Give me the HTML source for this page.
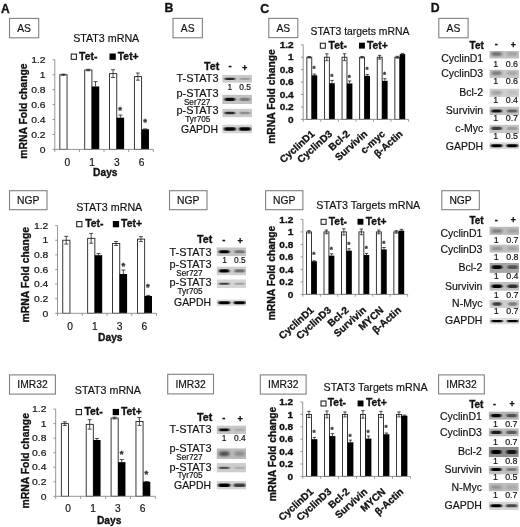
<!DOCTYPE html>
<html lang="en"><head><meta charset="utf-8"><title>STAT3 knockdown figure</title>
<style>html,body{margin:0;padding:0;background:#fff}svg{display:block;filter:blur(.35px)}text{font-family:'Liberation Sans', sans-serif;stroke:#111;stroke-width:.18px;paint-order:stroke}text[font-weight=bold]{stroke-width:.32px}</style>
</head><body>
<svg width="520" height="527" viewBox="0 0 520 527">
<defs><filter id="blur" x="-20%" y="-100%" width="140%" height="300%"><feGaussianBlur stdDeviation="0.9 0.7"/></filter><filter id="fuzz" x="-30%" y="-150%" width="160%" height="400%"><feGaussianBlur stdDeviation="1.5 1.2"/></filter></defs>
<rect width="520" height="527" fill="#fff"/>
<text x="1.00" y="12.50" font-size="12" text-anchor="start" font-weight="bold" fill="#111">A</text>
<text x="164.50" y="11.90" font-size="12.3" text-anchor="start" font-weight="bold" fill="#111">B</text>
<text x="260.20" y="12.70" font-size="12.4" text-anchor="start" font-weight="bold" fill="#111">C</text>
<text x="430.70" y="12.10" font-size="12.3" text-anchor="start" font-weight="bold" fill="#111">D</text>
<rect x="9.50" y="18.40" width="29.20" height="19.40" fill="#fff" stroke="#808080" stroke-width="1.1"/>
<text x="24.10" y="31.75" font-size="10.3" text-anchor="middle" fill="#111">AS</text>
<rect x="173.00" y="18.40" width="29.40" height="19.40" fill="#fff" stroke="#808080" stroke-width="1.1"/>
<text x="187.70" y="31.75" font-size="10.3" text-anchor="middle" fill="#111">AS</text>
<rect x="268.80" y="18.40" width="29.00" height="19.20" fill="#fff" stroke="#808080" stroke-width="1.1"/>
<text x="283.30" y="31.65" font-size="10.3" text-anchor="middle" fill="#111">AS</text>
<rect x="438.80" y="18.40" width="29.30" height="19.40" fill="#fff" stroke="#808080" stroke-width="1.1"/>
<text x="453.45" y="31.75" font-size="10.3" text-anchor="middle" fill="#111">AS</text>
<rect x="9.50" y="190.70" width="37.50" height="19.00" fill="#fff" stroke="#808080" stroke-width="1.1"/>
<text x="28.25" y="203.85" font-size="10.3" text-anchor="middle" fill="#111">NGP</text>
<rect x="169.50" y="190.70" width="37.50" height="19.00" fill="#fff" stroke="#808080" stroke-width="1.1"/>
<text x="188.25" y="203.85" font-size="10.3" text-anchor="middle" fill="#111">NGP</text>
<rect x="265.60" y="190.70" width="37.30" height="19.00" fill="#fff" stroke="#808080" stroke-width="1.1"/>
<text x="284.25" y="203.85" font-size="10.3" text-anchor="middle" fill="#111">NGP</text>
<rect x="441.80" y="190.70" width="37.50" height="19.00" fill="#fff" stroke="#808080" stroke-width="1.1"/>
<text x="460.55" y="203.85" font-size="10.3" text-anchor="middle" fill="#111">NGP</text>
<rect x="9.50" y="374.90" width="45.90" height="19.20" fill="#fff" stroke="#808080" stroke-width="1.1"/>
<text x="32.45" y="388.45" font-size="10.3" text-anchor="middle" fill="#111">IMR32</text>
<rect x="167.70" y="374.30" width="45.80" height="19.60" fill="#fff" stroke="#808080" stroke-width="1.1"/>
<text x="190.60" y="387.75" font-size="10.3" text-anchor="middle" fill="#111">IMR32</text>
<rect x="260.30" y="374.90" width="45.80" height="19.20" fill="#fff" stroke="#808080" stroke-width="1.1"/>
<text x="283.20" y="388.45" font-size="10.3" text-anchor="middle" fill="#111">IMR32</text>
<rect x="438.60" y="374.90" width="45.70" height="19.00" fill="#fff" stroke="#808080" stroke-width="1.1"/>
<text x="461.45" y="388.25" font-size="10.3" text-anchor="middle" fill="#111">IMR32</text>
<text x="106.20" y="42.20" font-size="10.7" text-anchor="middle" fill="#111">STAT3 mRNA</text>
<rect x="71.20" y="54.10" width="5.2" height="5.2" fill="#fff" stroke="#111" stroke-width="1"/>
<text x="79.10" y="59.70" font-size="10.4" text-anchor="start" font-weight="bold" fill="#111">Tet-</text>
<rect x="109.50" y="53.50" width="6.3" height="6.3" fill="#000"/>
<text x="117.80" y="59.70" font-size="10.4" text-anchor="start" font-weight="bold" fill="#111">Tet+</text>
<rect x="59.85" y="74.73" width="7.20" height="74.67" fill="#fff" stroke="#222" stroke-width="0.9"/>
<path d="M63.35 74.14V75.33M61.35 74.14H65.35M61.35 75.33H65.35" stroke="#222" stroke-width="0.8" fill="none"/>
<rect x="84.70" y="70.03" width="7.20" height="79.37" fill="#fff" stroke="#222" stroke-width="0.9"/>
<path d="M88.20 69.28V70.78M86.20 69.28H90.20M86.20 70.78H90.20" stroke="#222" stroke-width="0.8" fill="none"/>
<rect x="91.75" y="86.46" width="7.50" height="62.94" fill="#000"/>
<path d="M95.50 81.60V86.46M93.50 81.60H97.50" stroke="#222" stroke-width="0.8" fill="none"/>
<rect x="109.55" y="73.61" width="7.20" height="75.79" fill="#fff" stroke="#222" stroke-width="0.9"/>
<path d="M113.05 69.73V77.50M111.05 69.73H115.05M111.05 77.50H115.05" stroke="#222" stroke-width="0.8" fill="none"/>
<rect x="116.60" y="117.67" width="7.50" height="31.73" fill="#000"/>
<path d="M120.35 115.05V117.67M118.35 115.05H122.35" stroke="#222" stroke-width="0.8" fill="none"/>
<rect x="134.40" y="76.60" width="7.20" height="72.80" fill="#fff" stroke="#222" stroke-width="0.9"/>
<path d="M137.90 73.02V80.18M135.90 73.02H139.90M135.90 80.18H139.90" stroke="#222" stroke-width="0.8" fill="none"/>
<rect x="141.45" y="129.24" width="7.50" height="20.16" fill="#000"/>
<path d="M145.20 128.87V129.24M143.20 128.87H147.20" stroke="#222" stroke-width="0.8" fill="none"/>
<path d="M54.80 59.80V149.40H153.30" stroke="#8a8a8a" stroke-width="0.9" fill="none"/>
<path d="M52.50 149.40H54.80M52.50 134.47H54.80M52.50 119.53H54.80M52.50 104.60H54.80M52.50 89.67H54.80M52.50 74.73H54.80M52.50 59.80H54.80M54.80 149.40V151.90M79.42 149.40V151.90M104.05 149.40V151.90M128.68 149.40V151.90M153.30 149.40V151.90" stroke="#8a8a8a" stroke-width="0.9" fill="none"/>
<text transform="translate(45.60 152.60) scale(1.14 1)" font-size="9.1" text-anchor="end" fill="#111">0</text>
<text transform="translate(45.60 137.67) scale(1.14 1)" font-size="9.1" text-anchor="end" fill="#111">0.2</text>
<text transform="translate(45.60 122.73) scale(1.14 1)" font-size="9.1" text-anchor="end" fill="#111">0.4</text>
<text transform="translate(45.60 107.80) scale(1.14 1)" font-size="9.1" text-anchor="end" fill="#111">0.6</text>
<text transform="translate(45.60 92.87) scale(1.14 1)" font-size="9.1" text-anchor="end" fill="#111">0.8</text>
<text transform="translate(45.60 77.93) scale(1.14 1)" font-size="9.1" text-anchor="end" fill="#111">1</text>
<text transform="translate(45.60 63.00) scale(1.14 1)" font-size="9.1" text-anchor="end" fill="#111">1.2</text>
<text x="67.30" y="165.60" font-size="10.2" text-anchor="middle" fill="#111">0</text>
<text x="92.10" y="165.60" font-size="10.2" text-anchor="middle" fill="#111">1</text>
<text x="116.90" y="165.60" font-size="10.2" text-anchor="middle" fill="#111">3</text>
<text x="141.70" y="165.60" font-size="10.2" text-anchor="middle" fill="#111">6</text>
<text x="105.30" y="175.70" font-size="10.2" text-anchor="middle" font-weight="bold" fill="#111">Days</text>
<text transform="translate(27.20 111.10) rotate(-90)" font-size="10.4" font-weight="bold" text-anchor="middle" fill="#111">mRNA Fold change</text>
<text x="120.20" y="112.60" font-size="9.5" text-anchor="middle" font-weight="bold" fill="#333">*</text>
<text x="145.00" y="125.00" font-size="9.5" text-anchor="middle" font-weight="bold" fill="#333">*</text>
<text x="109.20" y="210.80" font-size="10.7" text-anchor="middle" fill="#111">STAT3 mRNA</text>
<rect x="76.70" y="221.60" width="5.2" height="5.2" fill="#fff" stroke="#111" stroke-width="1"/>
<text x="85.20" y="227.20" font-size="10.4" text-anchor="start" font-weight="bold" fill="#111">Tet-</text>
<rect x="112.80" y="221.00" width="6.3" height="6.3" fill="#000"/>
<text x="121.10" y="227.20" font-size="10.4" text-anchor="start" font-weight="bold" fill="#111">Tet+</text>
<rect x="62.75" y="240.22" width="7.20" height="73.08" fill="#fff" stroke="#222" stroke-width="0.9"/>
<path d="M66.25 236.34V244.09M64.25 236.34H68.25M64.25 244.09H68.25" stroke="#222" stroke-width="0.8" fill="none"/>
<rect x="87.65" y="238.32" width="7.20" height="74.98" fill="#fff" stroke="#222" stroke-width="0.9"/>
<path d="M91.15 233.42V243.21M89.15 233.42H93.15M89.15 243.21H93.15" stroke="#222" stroke-width="0.8" fill="none"/>
<rect x="94.70" y="255.20" width="7.50" height="58.10" fill="#000"/>
<path d="M98.45 253.59V255.20M96.45 253.59H100.45" stroke="#222" stroke-width="0.8" fill="none"/>
<rect x="112.55" y="243.43" width="7.20" height="69.87" fill="#fff" stroke="#222" stroke-width="0.9"/>
<path d="M116.05 241.46V245.41M114.05 241.46H118.05M114.05 245.41H118.05" stroke="#222" stroke-width="0.8" fill="none"/>
<rect x="119.60" y="274.05" width="7.50" height="39.25" fill="#000"/>
<path d="M123.35 270.03V274.05M121.35 270.03H125.35" stroke="#222" stroke-width="0.8" fill="none"/>
<rect x="137.45" y="239.12" width="7.20" height="74.18" fill="#fff" stroke="#222" stroke-width="0.9"/>
<path d="M140.95 236.64V241.61M138.95 236.64H142.95M138.95 241.61H142.95" stroke="#222" stroke-width="0.8" fill="none"/>
<rect x="144.50" y="295.98" width="7.50" height="17.32" fill="#000"/>
<path d="M148.25 295.39V295.98M146.25 295.39H150.25" stroke="#222" stroke-width="0.8" fill="none"/>
<path d="M57.50 225.60V313.30H156.50" stroke="#8a8a8a" stroke-width="0.9" fill="none"/>
<path d="M55.20 313.30H57.50M55.20 298.68H57.50M55.20 284.07H57.50M55.20 269.45H57.50M55.20 254.83H57.50M55.20 240.22H57.50M55.20 225.60H57.50M57.50 313.30V315.80M82.25 313.30V315.80M107.00 313.30V315.80M131.75 313.30V315.80M156.50 313.30V315.80" stroke="#8a8a8a" stroke-width="0.9" fill="none"/>
<text transform="translate(48.30 316.50) scale(1.14 1)" font-size="9.1" text-anchor="end" fill="#111">0</text>
<text transform="translate(48.30 301.88) scale(1.14 1)" font-size="9.1" text-anchor="end" fill="#111">0.2</text>
<text transform="translate(48.30 287.27) scale(1.14 1)" font-size="9.1" text-anchor="end" fill="#111">0.4</text>
<text transform="translate(48.30 272.65) scale(1.14 1)" font-size="9.1" text-anchor="end" fill="#111">0.6</text>
<text transform="translate(48.30 258.03) scale(1.14 1)" font-size="9.1" text-anchor="end" fill="#111">0.8</text>
<text transform="translate(48.30 243.42) scale(1.14 1)" font-size="9.1" text-anchor="end" fill="#111">1</text>
<text transform="translate(48.30 228.80) scale(1.14 1)" font-size="9.1" text-anchor="end" fill="#111">1.2</text>
<text x="70.00" y="329.60" font-size="10.2" text-anchor="middle" fill="#111">0</text>
<text x="94.80" y="329.60" font-size="10.2" text-anchor="middle" fill="#111">1</text>
<text x="119.60" y="329.60" font-size="10.2" text-anchor="middle" fill="#111">3</text>
<text x="144.40" y="329.60" font-size="10.2" text-anchor="middle" fill="#111">6</text>
<text x="110.30" y="341.00" font-size="10.2" text-anchor="middle" font-weight="bold" fill="#111">Days</text>
<text transform="translate(29.30 274.70) rotate(-90)" font-size="10.4" font-weight="bold" text-anchor="middle" fill="#111">mRNA Fold change</text>
<text x="123.30" y="269.00" font-size="9.5" text-anchor="middle" font-weight="bold" fill="#333">*</text>
<text x="147.80" y="289.80" font-size="9.5" text-anchor="middle" font-weight="bold" fill="#333">*</text>
<text x="107.90" y="393.50" font-size="10.7" text-anchor="middle" fill="#111">STAT3 mRNA</text>
<rect x="76.20" y="409.50" width="5.2" height="5.2" fill="#fff" stroke="#111" stroke-width="1"/>
<text x="84.50" y="415.10" font-size="10.4" text-anchor="start" font-weight="bold" fill="#111">Tet-</text>
<rect x="112.70" y="408.90" width="6.3" height="6.3" fill="#000"/>
<text x="120.90" y="415.10" font-size="10.4" text-anchor="start" font-weight="bold" fill="#111">Tet+</text>
<rect x="61.35" y="423.63" width="7.10" height="72.67" fill="#fff" stroke="#222" stroke-width="0.9"/>
<path d="M64.80 421.82V425.45M62.80 421.82H66.80M62.80 425.45H66.80" stroke="#222" stroke-width="0.8" fill="none"/>
<rect x="86.22" y="424.36" width="7.10" height="71.94" fill="#fff" stroke="#222" stroke-width="0.9"/>
<path d="M89.67 419.64V429.08M87.67 419.64H91.67M87.67 429.08H91.67" stroke="#222" stroke-width="0.8" fill="none"/>
<rect x="93.17" y="439.98" width="7.40" height="56.32" fill="#000"/>
<path d="M96.87 438.53V439.98M94.87 438.53H98.87" stroke="#222" stroke-width="0.8" fill="none"/>
<rect x="111.09" y="418.04" width="7.10" height="78.26" fill="#fff" stroke="#222" stroke-width="0.9"/>
<path d="M114.54 417.17V418.91M112.54 417.17H116.54M112.54 418.91H116.54" stroke="#222" stroke-width="0.8" fill="none"/>
<rect x="118.04" y="462.15" width="7.40" height="34.15" fill="#000"/>
<path d="M121.74 459.60V462.15M119.74 459.60H123.74" stroke="#222" stroke-width="0.8" fill="none"/>
<rect x="135.96" y="421.45" width="7.10" height="74.85" fill="#fff" stroke="#222" stroke-width="0.9"/>
<path d="M139.41 417.46V425.45M137.41 417.46H141.41M137.41 425.45H141.41" stroke="#222" stroke-width="0.8" fill="none"/>
<rect x="142.91" y="481.77" width="7.40" height="14.53" fill="#000"/>
<path d="M146.61 481.48V481.77M144.61 481.48H148.61" stroke="#222" stroke-width="0.8" fill="none"/>
<path d="M55.70 409.10V496.30H155.40" stroke="#8a8a8a" stroke-width="0.9" fill="none"/>
<path d="M53.40 496.30H55.70M53.40 481.77H55.70M53.40 467.23H55.70M53.40 452.70H55.70M53.40 438.17H55.70M53.40 423.63H55.70M53.40 409.10H55.70M55.70 496.30V498.80M80.62 496.30V498.80M105.55 496.30V498.80M130.48 496.30V498.80M155.40 496.30V498.80" stroke="#8a8a8a" stroke-width="0.9" fill="none"/>
<text transform="translate(46.50 499.50) scale(1.14 1)" font-size="9.1" text-anchor="end" fill="#111">0</text>
<text transform="translate(46.50 484.97) scale(1.14 1)" font-size="9.1" text-anchor="end" fill="#111">0.2</text>
<text transform="translate(46.50 470.43) scale(1.14 1)" font-size="9.1" text-anchor="end" fill="#111">0.4</text>
<text transform="translate(46.50 455.90) scale(1.14 1)" font-size="9.1" text-anchor="end" fill="#111">0.6</text>
<text transform="translate(46.50 441.37) scale(1.14 1)" font-size="9.1" text-anchor="end" fill="#111">0.8</text>
<text transform="translate(46.50 426.83) scale(1.14 1)" font-size="9.1" text-anchor="end" fill="#111">1</text>
<text transform="translate(46.50 412.30) scale(1.14 1)" font-size="9.1" text-anchor="end" fill="#111">1.2</text>
<text x="68.20" y="511.90" font-size="10.2" text-anchor="middle" fill="#111">0</text>
<text x="93.00" y="511.90" font-size="10.2" text-anchor="middle" fill="#111">1</text>
<text x="117.80" y="511.90" font-size="10.2" text-anchor="middle" fill="#111">3</text>
<text x="142.60" y="511.90" font-size="10.2" text-anchor="middle" fill="#111">6</text>
<text x="109.20" y="523.80" font-size="10.2" text-anchor="middle" font-weight="bold" fill="#111">Days</text>
<text transform="translate(28.90 460.80) rotate(-90)" font-size="10.4" font-weight="bold" text-anchor="middle" fill="#111">mRNA Fold change</text>
<text x="121.70" y="456.80" font-size="9.5" text-anchor="middle" font-weight="bold" fill="#333">*</text>
<text x="146.40" y="476.50" font-size="9.5" text-anchor="middle" font-weight="bold" fill="#333">*</text>
<text x="310.50" y="34.50" font-size="10.4" text-anchor="start" fill="#111">STAT3 targets mRNA</text>
<rect x="320.30" y="43.20" width="5.0" height="5.0" fill="#fff" stroke="#111" stroke-width="1"/>
<text x="328.60" y="48.60" font-size="10.4" text-anchor="start" font-weight="bold" fill="#111">Tet-</text>
<rect x="359.00" y="42.70" width="5.9" height="5.9" fill="#000"/>
<text x="367.00" y="48.60" font-size="10.4" text-anchor="start" font-weight="bold" fill="#111">Tet+</text>
<rect x="306.85" y="57.23" width="4.90" height="62.17" fill="#fff" stroke="#222" stroke-width="0.9"/>
<path d="M309.25 56.49V57.98M307.55 56.49H310.95M307.55 57.98H310.95" stroke="#222" stroke-width="0.8" fill="none"/>
<rect x="311.70" y="75.26" width="5.50" height="44.14" fill="#000"/>
<path d="M314.45 74.02V75.26M312.75 74.02H316.15" stroke="#222" stroke-width="0.8" fill="none"/>
<text x="314.15" y="71.46" font-size="8" text-anchor="middle" font-weight="bold" fill="#333">*</text>
<rect x="324.45" y="57.23" width="4.90" height="62.17" fill="#fff" stroke="#222" stroke-width="0.9"/>
<path d="M326.85 53.81V60.65M325.15 53.81H328.55M325.15 60.65H328.55" stroke="#222" stroke-width="0.8" fill="none"/>
<rect x="329.30" y="83.22" width="5.50" height="36.18" fill="#000"/>
<path d="M332.05 80.42V83.22M330.35 80.42H333.75" stroke="#222" stroke-width="0.8" fill="none"/>
<text x="331.75" y="79.42" font-size="8" text-anchor="middle" font-weight="bold" fill="#333">*</text>
<rect x="342.05" y="57.23" width="4.90" height="62.17" fill="#fff" stroke="#222" stroke-width="0.9"/>
<path d="M344.45 53.81V60.65M342.75 53.81H346.15M342.75 60.65H346.15" stroke="#222" stroke-width="0.8" fill="none"/>
<rect x="346.90" y="83.47" width="5.50" height="35.93" fill="#000"/>
<path d="M349.65 80.98V83.47M347.95 80.98H351.35" stroke="#222" stroke-width="0.8" fill="none"/>
<text x="349.35" y="79.67" font-size="8" text-anchor="middle" font-weight="bold" fill="#333">*</text>
<rect x="359.65" y="57.23" width="4.90" height="62.17" fill="#fff" stroke="#222" stroke-width="0.9"/>
<path d="M362.05 56.49V57.98M360.35 56.49H363.75M360.35 57.98H363.75" stroke="#222" stroke-width="0.8" fill="none"/>
<rect x="364.50" y="75.88" width="5.50" height="43.52" fill="#000"/>
<path d="M367.25 74.64V75.88M365.55 74.64H368.95" stroke="#222" stroke-width="0.8" fill="none"/>
<text x="366.95" y="72.08" font-size="8" text-anchor="middle" font-weight="bold" fill="#333">*</text>
<rect x="377.25" y="57.23" width="4.90" height="62.17" fill="#fff" stroke="#222" stroke-width="0.9"/>
<path d="M379.65 55.37V59.10M377.95 55.37H381.35M377.95 59.10H381.35" stroke="#222" stroke-width="0.8" fill="none"/>
<rect x="382.10" y="80.86" width="5.50" height="38.54" fill="#000"/>
<path d="M384.85 78.68V80.86M383.15 78.68H386.55" stroke="#222" stroke-width="0.8" fill="none"/>
<text x="384.55" y="77.06" font-size="8" text-anchor="middle" font-weight="bold" fill="#333">*</text>
<rect x="394.85" y="57.23" width="4.90" height="62.17" fill="#fff" stroke="#222" stroke-width="0.9"/>
<path d="M397.25 56.30V58.17M395.55 56.30H398.95M395.55 58.17H398.95" stroke="#222" stroke-width="0.8" fill="none"/>
<rect x="399.70" y="54.12" width="5.50" height="65.28" fill="#000"/>
<path d="M402.45 53.38V54.12M400.75 53.38H404.15" stroke="#222" stroke-width="0.8" fill="none"/>
<path d="M303.20 44.80V119.40H408.60" stroke="#8a8a8a" stroke-width="0.9" fill="none"/>
<path d="M300.90 119.40H303.20M300.90 106.97H303.20M300.90 94.53H303.20M300.90 82.10H303.20M300.90 69.67H303.20M300.90 57.23H303.20M300.90 44.80H303.20M303.20 119.40V121.70M320.77 119.40V121.70M338.33 119.40V121.70M355.90 119.40V121.70M373.47 119.40V121.70M391.03 119.40V121.70M408.60 119.40V121.70" stroke="#8a8a8a" stroke-width="0.9" fill="none"/>
<text transform="translate(293.60 122.55) scale(1.13 1)" font-size="8.9" font-weight="bold" text-anchor="end" fill="#111">0</text>
<text transform="translate(293.60 110.12) scale(1.13 1)" font-size="8.9" font-weight="bold" text-anchor="end" fill="#111">0.2</text>
<text transform="translate(293.60 97.68) scale(1.13 1)" font-size="8.9" font-weight="bold" text-anchor="end" fill="#111">0.4</text>
<text transform="translate(293.60 85.25) scale(1.13 1)" font-size="8.9" font-weight="bold" text-anchor="end" fill="#111">0.6</text>
<text transform="translate(293.60 72.82) scale(1.13 1)" font-size="8.9" font-weight="bold" text-anchor="end" fill="#111">0.8</text>
<text transform="translate(293.60 60.38) scale(1.13 1)" font-size="8.9" font-weight="bold" text-anchor="end" fill="#111">1</text>
<text transform="translate(293.60 47.95) scale(1.13 1)" font-size="8.9" font-weight="bold" text-anchor="end" fill="#111">1.2</text>
<text transform="translate(315.30 134.80) rotate(-42)" font-size="10" font-weight="bold" text-anchor="end" fill="#111">CyclinD1</text>
<text transform="translate(332.90 134.80) rotate(-42)" font-size="10" font-weight="bold" text-anchor="end" fill="#111">CyclinD3</text>
<text transform="translate(350.50 134.80) rotate(-42)" font-size="10" font-weight="bold" text-anchor="end" fill="#111">Bcl-2</text>
<text transform="translate(368.10 134.80) rotate(-42)" font-size="10" font-weight="bold" text-anchor="end" fill="#111">Survivin</text>
<text transform="translate(385.70 134.80) rotate(-42)" font-size="10" font-weight="bold" text-anchor="end" fill="#111">c-myc</text>
<text transform="translate(403.30 134.80) rotate(-42)" font-size="10" font-weight="bold" text-anchor="end" fill="#111">β-Actin</text>
<text transform="translate(275.40 96.50) rotate(-90)" font-size="10.3" font-weight="bold" text-anchor="middle" fill="#111">mRNA Fold change</text>
<text x="316.30" y="209.30" font-size="10.7" text-anchor="start" fill="#111">STAT3 Targets mRNA</text>
<rect x="321.10" y="219.30" width="5.0" height="5.0" fill="#fff" stroke="#111" stroke-width="1"/>
<text x="328.80" y="224.70" font-size="10.4" text-anchor="start" font-weight="bold" fill="#111">Tet-</text>
<rect x="357.50" y="218.80" width="5.9" height="5.9" fill="#000"/>
<text x="365.80" y="224.70" font-size="10.4" text-anchor="start" font-weight="bold" fill="#111">Tet+</text>
<rect x="306.55" y="231.90" width="4.90" height="62.50" fill="#fff" stroke="#222" stroke-width="0.9"/>
<path d="M308.95 230.65V233.15M307.25 230.65H310.65M307.25 233.15H310.65" stroke="#222" stroke-width="0.8" fill="none"/>
<rect x="311.40" y="261.27" width="5.50" height="33.12" fill="#000"/>
<path d="M314.15 260.77V261.27M312.45 260.77H315.85" stroke="#222" stroke-width="0.8" fill="none"/>
<text x="313.85" y="257.47" font-size="8" text-anchor="middle" font-weight="bold" fill="#333">*</text>
<rect x="324.01" y="231.90" width="4.90" height="62.50" fill="#fff" stroke="#222" stroke-width="0.9"/>
<path d="M326.41 230.03V233.78M324.71 230.03H328.11M324.71 233.78H328.11" stroke="#222" stroke-width="0.8" fill="none"/>
<rect x="328.86" y="255.65" width="5.50" height="38.75" fill="#000"/>
<path d="M331.61 253.77V255.65M329.91 253.77H333.31" stroke="#222" stroke-width="0.8" fill="none"/>
<text x="331.31" y="251.85" font-size="8" text-anchor="middle" font-weight="bold" fill="#333">*</text>
<rect x="341.47" y="231.90" width="4.90" height="62.50" fill="#fff" stroke="#222" stroke-width="0.9"/>
<path d="M343.87 228.78V235.03M342.17 228.78H345.57M342.17 235.03H345.57" stroke="#222" stroke-width="0.8" fill="none"/>
<rect x="346.32" y="250.65" width="5.50" height="43.75" fill="#000"/>
<path d="M349.07 248.77V250.65M347.37 248.77H350.77" stroke="#222" stroke-width="0.8" fill="none"/>
<text x="348.77" y="246.85" font-size="8" text-anchor="middle" font-weight="bold" fill="#333">*</text>
<rect x="358.93" y="231.90" width="4.90" height="62.50" fill="#fff" stroke="#222" stroke-width="0.9"/>
<path d="M361.33 229.09V234.71M359.63 229.09H363.03M359.63 234.71H363.03" stroke="#222" stroke-width="0.8" fill="none"/>
<rect x="363.78" y="255.02" width="5.50" height="39.38" fill="#000"/>
<path d="M366.53 253.46V255.02M364.83 253.46H368.23" stroke="#222" stroke-width="0.8" fill="none"/>
<text x="366.23" y="251.22" font-size="8" text-anchor="middle" font-weight="bold" fill="#333">*</text>
<rect x="376.39" y="231.90" width="4.90" height="62.50" fill="#fff" stroke="#222" stroke-width="0.9"/>
<path d="M378.79 230.03V233.78M377.09 230.03H380.49M377.09 233.78H380.49" stroke="#222" stroke-width="0.8" fill="none"/>
<rect x="381.24" y="249.40" width="5.50" height="45.00" fill="#000"/>
<path d="M383.99 247.52V249.40M382.29 247.52H385.69" stroke="#222" stroke-width="0.8" fill="none"/>
<text x="383.69" y="245.60" font-size="8" text-anchor="middle" font-weight="bold" fill="#333">*</text>
<rect x="393.85" y="231.90" width="4.90" height="62.50" fill="#fff" stroke="#222" stroke-width="0.9"/>
<path d="M396.25 230.65V233.15M394.55 230.65H397.95M394.55 233.15H397.95" stroke="#222" stroke-width="0.8" fill="none"/>
<rect x="398.70" y="230.65" width="5.50" height="63.75" fill="#000"/>
<path d="M401.45 229.40V230.65M399.75 229.40H403.15" stroke="#222" stroke-width="0.8" fill="none"/>
<path d="M302.90 219.40V294.40H407.60" stroke="#8a8a8a" stroke-width="0.9" fill="none"/>
<path d="M300.60 294.40H302.90M300.60 281.90H302.90M300.60 269.40H302.90M300.60 256.90H302.90M300.60 244.40H302.90M300.60 231.90H302.90M300.60 219.40H302.90M302.90 294.40V296.70M320.35 294.40V296.70M337.80 294.40V296.70M355.25 294.40V296.70M372.70 294.40V296.70M390.15 294.40V296.70M407.60 294.40V296.70" stroke="#8a8a8a" stroke-width="0.9" fill="none"/>
<text transform="translate(293.30 297.55) scale(1.13 1)" font-size="8.9" font-weight="bold" text-anchor="end" fill="#111">0</text>
<text transform="translate(293.30 285.05) scale(1.13 1)" font-size="8.9" font-weight="bold" text-anchor="end" fill="#111">0.2</text>
<text transform="translate(293.30 272.55) scale(1.13 1)" font-size="8.9" font-weight="bold" text-anchor="end" fill="#111">0.4</text>
<text transform="translate(293.30 260.05) scale(1.13 1)" font-size="8.9" font-weight="bold" text-anchor="end" fill="#111">0.6</text>
<text transform="translate(293.30 247.55) scale(1.13 1)" font-size="8.9" font-weight="bold" text-anchor="end" fill="#111">0.8</text>
<text transform="translate(293.30 235.05) scale(1.13 1)" font-size="8.9" font-weight="bold" text-anchor="end" fill="#111">1</text>
<text transform="translate(293.30 222.55) scale(1.13 1)" font-size="8.9" font-weight="bold" text-anchor="end" fill="#111">1.2</text>
<text transform="translate(314.40 311.00) rotate(-42)" font-size="10" font-weight="bold" text-anchor="end" fill="#111">CyclinD1</text>
<text transform="translate(331.86 311.00) rotate(-42)" font-size="10" font-weight="bold" text-anchor="end" fill="#111">CyclinD3</text>
<text transform="translate(349.32 311.00) rotate(-42)" font-size="10" font-weight="bold" text-anchor="end" fill="#111">Bcl-2</text>
<text transform="translate(366.78 311.00) rotate(-42)" font-size="10" font-weight="bold" text-anchor="end" fill="#111">Survivin</text>
<text transform="translate(384.24 311.00) rotate(-42)" font-size="10" font-weight="bold" text-anchor="end" fill="#111">MYCN</text>
<text transform="translate(401.70 311.00) rotate(-42)" font-size="10" font-weight="bold" text-anchor="end" fill="#111">β-Actin</text>
<text transform="translate(275.20 273.00) rotate(-90)" font-size="10.3" font-weight="bold" text-anchor="middle" fill="#111">mRNA Fold change</text>
<text x="323.60" y="391.00" font-size="10.7" text-anchor="start" fill="#111">STAT3 Targets mRNA</text>
<rect x="321.00" y="401.00" width="5.0" height="5.0" fill="#fff" stroke="#111" stroke-width="1"/>
<text x="327.80" y="406.40" font-size="10.4" text-anchor="start" font-weight="bold" fill="#111">Tet-</text>
<rect x="357.60" y="400.50" width="5.9" height="5.9" fill="#000"/>
<text x="366.00" y="406.40" font-size="10.4" text-anchor="start" font-weight="bold" fill="#111">Tet+</text>
<rect x="306.55" y="414.40" width="4.90" height="62.00" fill="#fff" stroke="#222" stroke-width="0.9"/>
<path d="M308.95 411.30V417.50M307.25 411.30H310.65M307.25 417.50H310.65" stroke="#222" stroke-width="0.8" fill="none"/>
<rect x="311.40" y="439.20" width="6.00" height="37.20" fill="#000"/>
<path d="M314.40 437.34V439.20M312.70 437.34H316.10" stroke="#222" stroke-width="0.8" fill="none"/>
<text x="314.10" y="435.40" font-size="8" text-anchor="middle" font-weight="bold" fill="#333">*</text>
<rect x="324.55" y="414.40" width="4.90" height="62.00" fill="#fff" stroke="#222" stroke-width="0.9"/>
<path d="M326.95 410.99V417.81M325.25 410.99H328.65M325.25 417.81H328.65" stroke="#222" stroke-width="0.8" fill="none"/>
<rect x="329.40" y="436.10" width="6.00" height="40.30" fill="#000"/>
<path d="M332.40 433.62V436.10M330.70 433.62H334.10" stroke="#222" stroke-width="0.8" fill="none"/>
<text x="332.10" y="432.30" font-size="8" text-anchor="middle" font-weight="bold" fill="#333">*</text>
<rect x="342.55" y="414.40" width="4.90" height="62.00" fill="#fff" stroke="#222" stroke-width="0.9"/>
<path d="M344.95 411.92V416.88M343.25 411.92H346.65M343.25 416.88H346.65" stroke="#222" stroke-width="0.8" fill="none"/>
<rect x="347.40" y="442.30" width="6.00" height="34.10" fill="#000"/>
<path d="M350.40 440.13V442.30M348.70 440.13H352.10" stroke="#222" stroke-width="0.8" fill="none"/>
<text x="350.10" y="438.50" font-size="8" text-anchor="middle" font-weight="bold" fill="#333">*</text>
<rect x="360.55" y="414.40" width="4.90" height="62.00" fill="#fff" stroke="#222" stroke-width="0.9"/>
<path d="M362.95 410.68V418.12M361.25 410.68H364.65M361.25 418.12H364.65" stroke="#222" stroke-width="0.8" fill="none"/>
<rect x="365.40" y="438.58" width="6.00" height="37.82" fill="#000"/>
<path d="M368.40 436.10V438.58M366.70 436.10H370.10" stroke="#222" stroke-width="0.8" fill="none"/>
<text x="368.10" y="434.78" font-size="8" text-anchor="middle" font-weight="bold" fill="#333">*</text>
<rect x="378.55" y="414.40" width="4.90" height="62.00" fill="#fff" stroke="#222" stroke-width="0.9"/>
<path d="M380.95 411.30V417.50M379.25 411.30H382.65M379.25 417.50H382.65" stroke="#222" stroke-width="0.8" fill="none"/>
<rect x="383.40" y="434.24" width="6.00" height="42.16" fill="#000"/>
<path d="M386.40 433.00V434.24M384.70 433.00H388.10" stroke="#222" stroke-width="0.8" fill="none"/>
<text x="386.10" y="430.44" font-size="8" text-anchor="middle" font-weight="bold" fill="#333">*</text>
<rect x="396.55" y="414.40" width="4.90" height="62.00" fill="#fff" stroke="#222" stroke-width="0.9"/>
<path d="M398.95 411.92V416.88M397.25 411.92H400.65M397.25 416.88H400.65" stroke="#222" stroke-width="0.8" fill="none"/>
<rect x="401.40" y="415.64" width="6.00" height="60.76" fill="#000"/>
<path d="M404.40 415.02V415.64M402.70 415.02H406.10" stroke="#222" stroke-width="0.8" fill="none"/>
<path d="M302.70 402.00V476.40H410.40" stroke="#8a8a8a" stroke-width="0.9" fill="none"/>
<path d="M300.40 476.40H302.70M300.40 464.00H302.70M300.40 451.60H302.70M300.40 439.20H302.70M300.40 426.80H302.70M300.40 414.40H302.70M300.40 402.00H302.70M302.70 476.40V478.70M320.65 476.40V478.70M338.60 476.40V478.70M356.55 476.40V478.70M374.50 476.40V478.70M392.45 476.40V478.70M410.40 476.40V478.70" stroke="#8a8a8a" stroke-width="0.9" fill="none"/>
<text transform="translate(293.10 479.55) scale(1.13 1)" font-size="8.9" font-weight="bold" text-anchor="end" fill="#111">0</text>
<text transform="translate(293.10 467.15) scale(1.13 1)" font-size="8.9" font-weight="bold" text-anchor="end" fill="#111">0.2</text>
<text transform="translate(293.10 454.75) scale(1.13 1)" font-size="8.9" font-weight="bold" text-anchor="end" fill="#111">0.4</text>
<text transform="translate(293.10 442.35) scale(1.13 1)" font-size="8.9" font-weight="bold" text-anchor="end" fill="#111">0.6</text>
<text transform="translate(293.10 429.95) scale(1.13 1)" font-size="8.9" font-weight="bold" text-anchor="end" fill="#111">0.8</text>
<text transform="translate(293.10 417.55) scale(1.13 1)" font-size="8.9" font-weight="bold" text-anchor="end" fill="#111">1</text>
<text transform="translate(293.10 405.15) scale(1.13 1)" font-size="8.9" font-weight="bold" text-anchor="end" fill="#111">1.2</text>
<text transform="translate(314.10 492.60) rotate(-42)" font-size="10" font-weight="bold" text-anchor="end" fill="#111">CyclinD1</text>
<text transform="translate(332.10 492.60) rotate(-42)" font-size="10" font-weight="bold" text-anchor="end" fill="#111">CyclinD3</text>
<text transform="translate(350.10 492.60) rotate(-42)" font-size="10" font-weight="bold" text-anchor="end" fill="#111">Bcl-2</text>
<text transform="translate(368.10 492.60) rotate(-42)" font-size="10" font-weight="bold" text-anchor="end" fill="#111">Survivin</text>
<text transform="translate(386.10 492.60) rotate(-42)" font-size="10" font-weight="bold" text-anchor="end" fill="#111">MYCN</text>
<text transform="translate(404.10 492.60) rotate(-42)" font-size="10" font-weight="bold" text-anchor="end" fill="#111">β-Actin</text>
<text transform="translate(275.60 454.00) rotate(-90)" font-size="10.3" font-weight="bold" text-anchor="middle" fill="#111">mRNA Fold change</text>
<text x="219.30" y="69.70" font-size="10.7" text-anchor="end" font-weight="bold" fill="#111">Tet</text>
<text x="230.00" y="69.40" font-size="9.4" text-anchor="middle" font-weight="bold" fill="#111">-</text>
<text x="244.70" y="70.90" font-size="9.2" text-anchor="middle" font-weight="bold" fill="#111">+</text>
<clipPath id="c1"><rect x="222.20" y="74.80" width="29.80" height="8.00"/></clipPath>
<g clip-path="url(#c1)"><rect x="222.20" y="74.80" width="29.80" height="8.00" fill="#cbcbcb"/>
<g filter="url(#blur)">
<rect x="224.65" y="77.70" width="10.50" height="2.20" rx="1.10" fill="#000" opacity="0.8"/>
<rect x="239.65" y="77.70" width="10.50" height="2.20" rx="1.10" fill="#000" opacity="0.22"/>
</g></g>
<text x="218.50" y="81.90" font-size="10.9" text-anchor="end" fill="#111">T-STAT3</text>
<clipPath id="c2"><rect x="222.20" y="94.60" width="29.80" height="9.50"/></clipPath>
<g clip-path="url(#c2)"><rect x="222.20" y="94.60" width="29.80" height="9.50" fill="#c2c2c2"/>
<g filter="url(#blur)">
<rect x="224.65" y="97.75" width="10.50" height="3.20" rx="1.60" fill="#000" opacity="0.95"/>
<rect x="239.65" y="97.75" width="10.50" height="3.20" rx="1.60" fill="#000" opacity="0.35"/>
</g></g>
<text x="218.50" y="96.80" font-size="10.9" text-anchor="end" fill="#111">p-STAT3</text>
<text x="210.30" y="105.10" font-size="8.2" text-anchor="end" fill="#111">Ser727</text>
<clipPath id="c3"><rect x="222.20" y="108.60" width="29.80" height="8.80"/></clipPath>
<g clip-path="url(#c3)"><rect x="222.20" y="108.60" width="29.80" height="8.80" fill="#cacaca"/>
<g filter="url(#blur)">
<rect x="224.65" y="111.80" width="10.50" height="2.40" rx="1.20" fill="#000" opacity="0.8"/>
<rect x="239.65" y="111.80" width="10.50" height="2.40" rx="1.20" fill="#000" opacity="0.3"/>
</g></g>
<text x="218.50" y="114.00" font-size="10.9" text-anchor="end" fill="#111">p-STAT3</text>
<text x="210.30" y="122.30" font-size="8.2" text-anchor="end" fill="#111">Tyr705</text>
<clipPath id="c4"><rect x="222.20" y="124.50" width="29.80" height="9.00"/></clipPath>
<g clip-path="url(#c4)"><rect x="222.20" y="124.50" width="29.80" height="9.00" fill="#d2d2d2"/>
<g filter="url(#blur)">
<rect x="223.90" y="127.35" width="12.00" height="3.30" rx="1.65" fill="#000" opacity="1.0"/>
<rect x="238.90" y="127.35" width="12.00" height="3.30" rx="1.65" fill="#000" opacity="1.0"/>
</g></g>
<text x="218.00" y="132.70" font-size="10.4" text-anchor="end" fill="#111">GAPDH</text>
<text x="229.80" y="90.10" font-size="8.4" text-anchor="middle" fill="#111">1</text>
<text x="245.20" y="90.10" font-size="8.4" text-anchor="middle" fill="#111">0.5</text>
<text x="212.30" y="243.20" font-size="10.7" text-anchor="end" font-weight="bold" fill="#111">Tet</text>
<text x="223.70" y="242.90" font-size="9.4" text-anchor="middle" font-weight="bold" fill="#111">-</text>
<text x="240.20" y="244.40" font-size="9.2" text-anchor="middle" font-weight="bold" fill="#111">+</text>
<clipPath id="c5"><rect x="216.50" y="247.30" width="29.50" height="8.90"/></clipPath>
<g clip-path="url(#c5)"><rect x="216.50" y="247.30" width="29.50" height="8.90" fill="#c4c4c4"/>
<g filter="url(#blur)">
<rect x="218.95" y="250.25" width="10.50" height="3.00" rx="1.50" fill="#000" opacity="1.0"/>
<rect x="234.35" y="250.25" width="10.50" height="3.00" rx="1.50" fill="#000" opacity="0.4"/>
</g></g>
<text x="211.50" y="256.20" font-size="10.9" text-anchor="end" fill="#111">T-STAT3</text>
<clipPath id="c6"><rect x="216.50" y="266.40" width="29.50" height="9.00"/></clipPath>
<g clip-path="url(#c6)"><rect x="216.50" y="266.40" width="29.50" height="9.00" fill="#cecece"/>
<g filter="url(#blur)">
<rect x="218.95" y="269.20" width="10.50" height="3.40" rx="1.70" fill="#000" opacity="1.0"/>
<rect x="234.35" y="269.20" width="10.50" height="3.40" rx="1.70" fill="#000" opacity="0.45"/>
</g></g>
<text x="211.50" y="268.20" font-size="10.9" text-anchor="end" fill="#111">p-STAT3</text>
<text x="202.60" y="275.70" font-size="8.2" text-anchor="end" fill="#111">Ser727</text>
<clipPath id="c7"><rect x="216.50" y="279.30" width="29.50" height="8.90"/></clipPath>
<g clip-path="url(#c7)"><rect x="216.50" y="279.30" width="29.50" height="8.90" fill="#d6d6d6"/>
<g filter="url(#blur)">
<rect x="218.95" y="282.65" width="10.50" height="2.20" rx="1.10" fill="#000" opacity="0.7"/>
<rect x="234.35" y="282.65" width="10.50" height="2.20" rx="1.10" fill="#000" opacity="0.25"/>
</g></g>
<text x="211.50" y="285.90" font-size="10.9" text-anchor="end" fill="#111">p-STAT3</text>
<text x="202.60" y="293.90" font-size="8.2" text-anchor="end" fill="#111">Tyr705</text>
<clipPath id="c8"><rect x="216.50" y="299.20" width="29.50" height="7.10"/></clipPath>
<g clip-path="url(#c8)"><rect x="216.50" y="299.20" width="29.50" height="7.10" fill="#dedede"/>
<g filter="url(#blur)">
<rect x="218.20" y="301.35" width="12.00" height="2.80" rx="1.40" fill="#000" opacity="1.0"/>
<rect x="233.60" y="301.35" width="12.00" height="2.80" rx="1.40" fill="#000" opacity="1.0"/>
</g></g>
<text x="211.00" y="306.30" font-size="10.4" text-anchor="end" fill="#111">GAPDH</text>
<text x="224.70" y="262.90" font-size="8.4" text-anchor="middle" fill="#111">1</text>
<text x="239.80" y="262.90" font-size="8.4" text-anchor="middle" fill="#111">0.5</text>
<text x="212.30" y="421.20" font-size="10.7" text-anchor="end" font-weight="bold" fill="#111">Tet</text>
<text x="223.70" y="420.90" font-size="9.4" text-anchor="middle" font-weight="bold" fill="#111">-</text>
<text x="240.20" y="422.40" font-size="9.2" text-anchor="middle" font-weight="bold" fill="#111">+</text>
<clipPath id="c9"><rect x="216.50" y="425.40" width="29.50" height="8.80"/></clipPath>
<g clip-path="url(#c9)"><rect x="216.50" y="425.40" width="29.50" height="8.80" fill="#c6c6c6"/>
<g filter="url(#blur)">
<rect x="218.95" y="428.40" width="10.50" height="2.80" rx="1.40" fill="#000" opacity="0.95"/>
<rect x="234.35" y="428.40" width="10.50" height="2.80" rx="1.40" fill="#000" opacity="0.12"/>
</g></g>
<text x="211.50" y="433.20" font-size="10.9" text-anchor="end" fill="#111">T-STAT3</text>
<clipPath id="c10"><rect x="216.50" y="448.30" width="29.50" height="10.80"/></clipPath>
<g clip-path="url(#c10)"><rect x="216.50" y="448.30" width="29.50" height="10.80" fill="#bbbbbb"/>
<g filter="url(#fuzz)">
<rect x="218.95" y="451.40" width="10.50" height="4.60" rx="2.30" fill="#000" opacity="0.6"/>
<rect x="234.35" y="451.40" width="10.50" height="4.60" rx="2.30" fill="#000" opacity="0.25"/>
</g></g>
<text x="211.50" y="451.90" font-size="10.9" text-anchor="end" fill="#111">p-STAT3</text>
<text x="202.60" y="459.60" font-size="8.2" text-anchor="end" fill="#111">Ser727</text>
<clipPath id="c11"><rect x="216.50" y="463.10" width="29.50" height="9.50"/></clipPath>
<g clip-path="url(#c11)"><rect x="216.50" y="463.10" width="29.50" height="9.50" fill="#cdcdcd"/>
<g filter="url(#blur)">
<rect x="218.95" y="466.65" width="10.50" height="2.40" rx="1.20" fill="#000" opacity="0.6"/>
<rect x="234.35" y="466.65" width="10.50" height="2.40" rx="1.20" fill="#000" opacity="0.15"/>
</g></g>
<text x="211.50" y="470.50" font-size="10.9" text-anchor="end" fill="#111">p-STAT3</text>
<text x="202.60" y="478.20" font-size="8.2" text-anchor="end" fill="#111">Tyr705</text>
<clipPath id="c12"><rect x="216.50" y="481.10" width="29.50" height="8.40"/></clipPath>
<g clip-path="url(#c12)"><rect x="216.50" y="481.10" width="29.50" height="8.40" fill="#d2d2d2"/>
<g filter="url(#blur)">
<rect x="218.20" y="483.60" width="12.00" height="3.40" rx="1.70" fill="#000" opacity="1.0"/>
<rect x="233.60" y="483.60" width="12.00" height="3.40" rx="1.70" fill="#000" opacity="0.7"/>
</g></g>
<text x="211.00" y="488.70" font-size="10.4" text-anchor="end" fill="#111">GAPDH</text>
<text x="224.20" y="440.70" font-size="8.4" text-anchor="middle" fill="#111">1</text>
<text x="239.80" y="440.70" font-size="8.4" text-anchor="middle" fill="#111">0.4</text>
<text x="483.80" y="49.00" font-size="10.0" text-anchor="end" font-weight="bold" fill="#111">Tet</text>
<text x="496.20" y="47.40" font-size="9.0" text-anchor="middle" font-weight="bold" fill="#111">-</text>
<text x="513.20" y="48.10" font-size="8.8" text-anchor="middle" font-weight="bold" fill="#111">+</text>
<clipPath id="c13"><rect x="489.30" y="50.90" width="29.90" height="7.80"/></clipPath>
<g clip-path="url(#c13)"><rect x="489.30" y="50.90" width="29.90" height="7.80" fill="#c3c3c3"/>
<g filter="url(#fuzz)">
<rect x="491.35" y="52.20" width="10.50" height="3.60" rx="1.80" fill="#000" opacity="0.5"/>
<rect x="506.95" y="52.20" width="10.50" height="3.60" rx="1.80" fill="#000" opacity="0.2"/>
</g></g>
<text x="483.20" y="61.90" font-size="10.5" text-anchor="end" fill="#111">CyclinD1</text>
<text x="495.80" y="66.80" font-size="8.9" text-anchor="middle" fill="#111">1</text>
<text x="511.90" y="66.80" font-size="8.9" text-anchor="middle" fill="#111">0.6</text>
<clipPath id="c14"><rect x="489.30" y="69.60" width="29.90" height="8.60"/></clipPath>
<g clip-path="url(#c14)"><rect x="489.30" y="69.60" width="29.90" height="8.60" fill="#c8c8c8"/>
<g filter="url(#fuzz)">
<rect x="491.35" y="71.20" width="10.50" height="3.80" rx="1.90" fill="#000" opacity="0.42"/>
<rect x="506.95" y="71.20" width="10.50" height="3.80" rx="1.90" fill="#000" opacity="0.18"/>
</g></g>
<text x="483.20" y="77.40" font-size="10.5" text-anchor="end" fill="#111">CyclinD3</text>
<text x="495.80" y="84.20" font-size="8.9" text-anchor="middle" fill="#111">1</text>
<text x="511.90" y="84.20" font-size="8.9" text-anchor="middle" fill="#111">0.6</text>
<clipPath id="c15"><rect x="489.30" y="88.40" width="29.90" height="8.70"/></clipPath>
<g clip-path="url(#c15)"><rect x="489.30" y="88.40" width="29.90" height="8.70" fill="#d0d0d0"/>
<g filter="url(#fuzz)">
<rect x="491.35" y="90.65" width="10.50" height="4.20" rx="2.10" fill="#000" opacity="0.24"/>
<rect x="506.95" y="90.65" width="10.50" height="4.20" rx="2.10" fill="#000" opacity="0.09"/>
</g></g>
<text x="483.20" y="96.40" font-size="10.5" text-anchor="end" fill="#111">Bcl-2</text>
<text x="495.80" y="102.90" font-size="8.9" text-anchor="middle" fill="#111">1</text>
<text x="511.90" y="102.90" font-size="8.9" text-anchor="middle" fill="#111">0.4</text>
<clipPath id="c16"><rect x="489.30" y="106.50" width="29.90" height="8.80"/></clipPath>
<g clip-path="url(#c16)"><rect x="489.30" y="106.50" width="29.90" height="8.80" fill="#c2c2c2"/>
<g filter="url(#blur)">
<rect x="491.35" y="109.40" width="10.50" height="3.00" rx="1.50" fill="#000" opacity="0.9"/>
<rect x="506.95" y="109.40" width="10.50" height="3.00" rx="1.50" fill="#000" opacity="0.5"/>
</g></g>
<text x="483.20" y="114.20" font-size="10.5" text-anchor="end" fill="#111">Survivin</text>
<text x="495.80" y="121.00" font-size="8.9" text-anchor="middle" fill="#111">1</text>
<text x="511.90" y="121.00" font-size="8.9" text-anchor="middle" fill="#111">0.7</text>
<clipPath id="c17"><rect x="489.30" y="124.60" width="29.90" height="8.70"/></clipPath>
<g clip-path="url(#c17)"><rect x="489.30" y="124.60" width="29.90" height="8.70" fill="#c6c6c6"/>
<g filter="url(#blur)">
<rect x="491.35" y="126.85" width="10.50" height="3.20" rx="1.60" fill="#000" opacity="0.7"/>
<rect x="506.95" y="126.85" width="10.50" height="3.20" rx="1.60" fill="#000" opacity="0.2"/>
</g></g>
<text x="483.20" y="132.20" font-size="10.5" text-anchor="end" fill="#111">c-Myc</text>
<text x="495.80" y="139.20" font-size="8.9" text-anchor="middle" fill="#111">1</text>
<text x="511.90" y="139.20" font-size="8.9" text-anchor="middle" fill="#111">0.5</text>
<clipPath id="c18"><rect x="489.30" y="142.20" width="29.90" height="7.10"/></clipPath>
<g clip-path="url(#c18)"><rect x="489.30" y="142.20" width="29.90" height="7.10" fill="#d8d8d8"/>
<g filter="url(#blur)">
<rect x="490.85" y="144.35" width="11.50" height="2.80" rx="1.40" fill="#000" opacity="1.0"/>
<rect x="506.45" y="144.35" width="11.50" height="2.80" rx="1.40" fill="#000" opacity="1.0"/>
</g></g>
<text x="483.20" y="149.60" font-size="10.5" text-anchor="end" fill="#111">GAPDH</text>
<text x="483.70" y="224.20" font-size="10.0" text-anchor="end" font-weight="bold" fill="#111">Tet</text>
<text x="496.20" y="222.60" font-size="9.0" text-anchor="middle" font-weight="bold" fill="#111">-</text>
<text x="513.40" y="223.30" font-size="8.8" text-anchor="middle" font-weight="bold" fill="#111">+</text>
<clipPath id="c19"><rect x="489.40" y="226.50" width="29.80" height="8.40"/></clipPath>
<g clip-path="url(#c19)"><rect x="489.40" y="226.50" width="29.80" height="8.40" fill="#bcbcbc"/>
<g filter="url(#fuzz)">
<rect x="491.75" y="229.40" width="10.50" height="3.20" rx="1.60" fill="#000" opacity="0.42"/>
<rect x="507.45" y="229.40" width="10.50" height="3.20" rx="1.60" fill="#000" opacity="0.2"/>
</g></g>
<text x="482.40" y="237.00" font-size="10.5" text-anchor="end" fill="#111">CyclinD1</text>
<text x="496.20" y="242.60" font-size="8.9" text-anchor="middle" fill="#111">1</text>
<text x="512.40" y="242.60" font-size="8.9" text-anchor="middle" fill="#111">0.7</text>
<clipPath id="c20"><rect x="489.40" y="244.40" width="29.80" height="8.40"/></clipPath>
<g clip-path="url(#c20)"><rect x="489.40" y="244.40" width="29.80" height="8.40" fill="#c2c2c2"/>
<g filter="url(#fuzz)">
<rect x="491.75" y="247.10" width="10.50" height="3.00" rx="1.50" fill="#000" opacity="0.3"/>
<rect x="507.45" y="247.10" width="10.50" height="3.00" rx="1.50" fill="#000" opacity="0.2"/>
</g></g>
<text x="482.40" y="253.00" font-size="10.5" text-anchor="end" fill="#111">CyclinD3</text>
<text x="496.20" y="259.50" font-size="8.9" text-anchor="middle" fill="#111">1</text>
<text x="512.40" y="259.50" font-size="8.9" text-anchor="middle" fill="#111">0.8</text>
<clipPath id="c21"><rect x="489.40" y="263.00" width="29.80" height="9.90"/></clipPath>
<g clip-path="url(#c21)"><rect x="489.40" y="263.00" width="29.80" height="9.90" fill="#a6a6a6"/>
<g filter="url(#blur)">
<rect x="491.75" y="265.35" width="10.50" height="3.60" rx="1.80" fill="#000" opacity="0.95"/>
<rect x="507.45" y="265.35" width="10.50" height="3.60" rx="1.80" fill="#000" opacity="0.5"/>
</g></g>
<text x="482.40" y="270.60" font-size="10.5" text-anchor="end" fill="#111">Bcl-2</text>
<text x="496.20" y="279.20" font-size="8.9" text-anchor="middle" fill="#111">1</text>
<text x="512.40" y="279.20" font-size="8.9" text-anchor="middle" fill="#111">0.4</text>
<clipPath id="c22"><rect x="489.40" y="281.80" width="29.80" height="9.00"/></clipPath>
<g clip-path="url(#c22)"><rect x="489.40" y="281.80" width="29.80" height="9.00" fill="#bebebe"/>
<g filter="url(#blur)">
<rect x="491.75" y="284.60" width="10.50" height="3.40" rx="1.70" fill="#000" opacity="1.0"/>
<rect x="507.45" y="284.60" width="10.50" height="3.40" rx="1.70" fill="#000" opacity="0.75"/>
</g></g>
<text x="482.40" y="289.60" font-size="10.5" text-anchor="end" fill="#111">Survivin</text>
<text x="496.20" y="297.70" font-size="8.9" text-anchor="middle" fill="#111">1</text>
<text x="512.40" y="297.70" font-size="8.9" text-anchor="middle" fill="#111">0.7</text>
<clipPath id="c23"><rect x="489.40" y="299.90" width="29.80" height="8.30"/></clipPath>
<g clip-path="url(#c23)"><rect x="489.40" y="299.90" width="29.80" height="8.30" fill="#cecece"/>
<g filter="url(#blur)">
<rect x="492.50" y="302.35" width="9.00" height="3.40" rx="1.70" fill="#000" opacity="0.7"/>
<rect x="508.20" y="302.35" width="9.00" height="3.40" rx="1.70" fill="#000" opacity="0.38"/>
</g></g>
<text x="482.40" y="306.60" font-size="10.5" text-anchor="end" fill="#111">N-Myc</text>
<text x="496.20" y="314.20" font-size="8.9" text-anchor="middle" fill="#111">1</text>
<text x="512.40" y="314.20" font-size="8.9" text-anchor="middle" fill="#111">0.7</text>
<clipPath id="c24"><rect x="489.40" y="317.80" width="29.80" height="6.60"/></clipPath>
<g clip-path="url(#c24)"><rect x="489.40" y="317.80" width="29.80" height="6.60" fill="#dcdcdc"/>
<g filter="url(#blur)">
<rect x="491.25" y="319.90" width="11.50" height="2.40" rx="1.20" fill="#000" opacity="1.0"/>
<rect x="506.95" y="319.90" width="11.50" height="2.40" rx="1.20" fill="#000" opacity="1.0"/>
</g></g>
<text x="482.40" y="324.40" font-size="10.5" text-anchor="end" fill="#111">GAPDH</text>
<text x="483.40" y="408.10" font-size="10.0" text-anchor="end" font-weight="bold" fill="#111">Tet</text>
<text x="494.60" y="406.50" font-size="9.0" text-anchor="middle" font-weight="bold" fill="#111">-</text>
<text x="512.00" y="407.20" font-size="8.8" text-anchor="middle" font-weight="bold" fill="#111">+</text>
<clipPath id="c25"><rect x="488.60" y="411.40" width="30.20" height="8.40"/></clipPath>
<g clip-path="url(#c25)"><rect x="488.60" y="411.40" width="30.20" height="8.40" fill="#b2b2b2"/>
<g filter="url(#blur)">
<rect x="490.95" y="413.90" width="10.50" height="3.40" rx="1.70" fill="#000" opacity="0.95"/>
<rect x="506.35" y="413.90" width="10.50" height="3.40" rx="1.70" fill="#000" opacity="0.55"/>
</g></g>
<text x="481.90" y="420.40" font-size="10.5" text-anchor="end" fill="#111">CyclinD1</text>
<text x="495.40" y="426.60" font-size="8.9" text-anchor="middle" fill="#111">1</text>
<text x="511.30" y="426.60" font-size="8.9" text-anchor="middle" fill="#111">0.7</text>
<clipPath id="c26"><rect x="488.60" y="428.30" width="30.20" height="8.30"/></clipPath>
<g clip-path="url(#c26)"><rect x="488.60" y="428.30" width="30.20" height="8.30" fill="#b8b8b8"/>
<g filter="url(#blur)">
<rect x="490.95" y="430.85" width="10.50" height="3.20" rx="1.60" fill="#000" opacity="0.85"/>
<rect x="506.35" y="430.85" width="10.50" height="3.20" rx="1.60" fill="#000" opacity="0.5"/>
</g></g>
<text x="481.90" y="436.30" font-size="10.5" text-anchor="end" fill="#111">CyclinD3</text>
<text x="495.40" y="445.00" font-size="8.9" text-anchor="middle" fill="#111">1</text>
<text x="511.30" y="445.00" font-size="8.9" text-anchor="middle" fill="#111">0.7</text>
<clipPath id="c27"><rect x="488.60" y="446.80" width="30.20" height="10.40"/></clipPath>
<g clip-path="url(#c27)"><rect x="488.60" y="446.80" width="30.20" height="10.40" fill="#8e8e8e"/>
<g filter="url(#blur)">
<rect x="490.95" y="450.10" width="10.50" height="3.80" rx="1.90" fill="#000" opacity="1.0"/>
<rect x="506.35" y="450.10" width="10.50" height="3.80" rx="1.90" fill="#000" opacity="0.85"/>
</g></g>
<text x="481.90" y="455.20" font-size="10.5" text-anchor="end" fill="#111">Bcl-2</text>
<text x="495.40" y="464.00" font-size="8.9" text-anchor="middle" fill="#111">1</text>
<text x="511.30" y="464.00" font-size="8.9" text-anchor="middle" fill="#111">0.8</text>
<clipPath id="c28"><rect x="488.60" y="465.80" width="30.20" height="8.80"/></clipPath>
<g clip-path="url(#c28)"><rect x="488.60" y="465.80" width="30.20" height="8.80" fill="#c0c0c0"/>
<g filter="url(#blur)">
<rect x="490.95" y="468.10" width="10.50" height="3.00" rx="1.50" fill="#000" opacity="1.0"/>
<rect x="506.35" y="468.10" width="10.50" height="3.00" rx="1.50" fill="#000" opacity="0.35"/>
</g></g>
<text x="481.90" y="472.90" font-size="10.5" text-anchor="end" fill="#111">Survivin</text>
<text x="495.40" y="480.30" font-size="8.9" text-anchor="middle" fill="#111">1</text>
<text x="511.30" y="480.30" font-size="8.9" text-anchor="middle" fill="#111">0.5</text>
<clipPath id="c29"><rect x="488.60" y="483.00" width="30.20" height="8.50"/></clipPath>
<g clip-path="url(#c29)"><rect x="488.60" y="483.00" width="30.20" height="8.50" fill="#bcbcbc"/>
<g filter="url(#fuzz)">
<rect x="490.95" y="485.65" width="10.50" height="3.20" rx="1.60" fill="#000" opacity="0.28"/>
<rect x="506.35" y="485.65" width="10.50" height="3.20" rx="1.60" fill="#000" opacity="0.14"/>
</g></g>
<text x="481.90" y="490.60" font-size="10.5" text-anchor="end" fill="#111">N-Myc</text>
<text x="495.40" y="498.30" font-size="8.9" text-anchor="middle" fill="#111">1</text>
<text x="511.30" y="498.30" font-size="8.9" text-anchor="middle" fill="#111">0.7</text>
<clipPath id="c30"><rect x="488.60" y="501.50" width="30.20" height="8.40"/></clipPath>
<g clip-path="url(#c30)"><rect x="488.60" y="501.50" width="30.20" height="8.40" fill="#d4d4d4"/>
<g filter="url(#blur)">
<rect x="490.45" y="504.20" width="11.50" height="3.00" rx="1.50" fill="#000" opacity="1.0"/>
<rect x="505.85" y="504.20" width="11.50" height="3.00" rx="1.50" fill="#000" opacity="0.65"/>
</g></g>
<text x="481.90" y="509.00" font-size="10.5" text-anchor="end" fill="#111">GAPDH</text>
</svg>
</body></html>
